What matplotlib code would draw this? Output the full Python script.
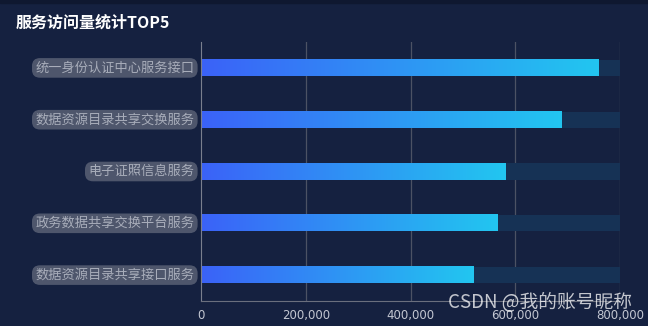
import numpy as np
import matplotlib
matplotlib.use("Agg")
import matplotlib.pyplot as plt
from matplotlib.colors import LinearSegmentedColormap

plt.rcParams['font.family'] = ['Noto Sans CJK SC', 'DejaVu Sans']

title = "服务访问量统计TOP5"
services = ["统一身份认证中心服务接口", "数据资源目录共享交换服务",
            "电子证照信息服务", "政务数据共享交换平台服务", "数据资源目录共享接口服务"]
visits = [758000, 689000, 582000, 566000, 521000]
capacity = 800000
xticks = [0, 200000, 400000, 600000, 800000]

bg = "#152140"
fig = plt.figure(figsize=(6.48, 3.26), dpi=100, facecolor=bg)
ax = fig.add_axes([201/648, 1 - 301/326, 419/648, 259/326])
ax.set_facecolor(bg)

cmap = LinearSegmentedColormap.from_list("bar", ["#3b62f8", "#22c6f0"])
grad = np.linspace(0, 1, 256).reshape(1, -1)

n = len(services)
ys = np.arange(n)[::-1]
h = 0.31
for y, v in zip(ys, visits):
    ax.barh(y, capacity, height=h, color="#163255", zorder=1)
    ax.imshow(grad, cmap=cmap, aspect="auto", extent=[0, v, y - h/2, y + h/2],
              zorder=2, interpolation="bicubic")

ax.set_xlim(0, capacity)
ax.set_ylim(-0.5, n - 0.5)
ax.set_xticks(xticks)
ax.set_xticklabels([f"{t:,}" for t in xticks], color="#c3c7d2", fontsize=8.5,
                   family=["DejaVu Sans"])
ax.tick_params(axis="x", length=0, pad=6)
ax.set_yticks(ys)
ax.set_yticklabels([])
ax.tick_params(axis="y", length=0)
for x in xticks[1:]:
    ax.axvline(x, color="#4c5264", lw=0.9, zorder=0)
for s in ["top", "right"]:
    ax.spines[s].set_visible(False)
ax.spines["left"].set_color("#7a7f8e")
ax.spines["bottom"].set_color("#6a6f7e")

for y, name in zip(ys, services):
    ax.text(-0.016, y, name, transform=ax.get_yaxis_transform(),
            ha="right", va="center", fontsize=9.5, color="#a8adba",
            bbox=dict(boxstyle="round,pad=0.25,rounding_size=0.6",
                      facecolor="#555d72", edgecolor="none", alpha=0.9))

fig.text(16/648, 1 - 23/326, title, color="white", fontsize=11.5,
         fontweight="bold", va="center", ha="left")
fig.add_artist(plt.Rectangle((0, 1 - 3/326), 1, 3/326, transform=fig.transFigure,
                             color="#0f1830", zorder=0))

fig.text(632/648, 1 - 303/326, "CSDN @我的账号昵称", color="white", alpha=0.75,
         fontsize=13.5, ha="right", va="center")

fig.savefig("out.png", dpi=100, facecolor=bg)
